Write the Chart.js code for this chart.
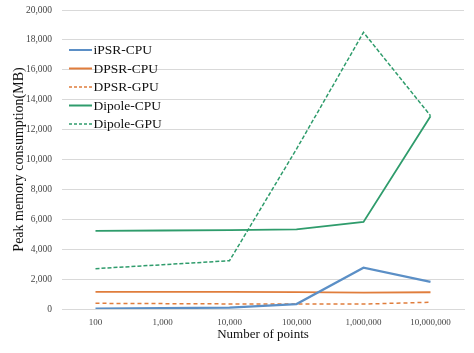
<!DOCTYPE html>
<html>
<head>
<meta charset="utf-8">
<script src="https://cdn.jsdelivr.net/npm/chart.js@4.4.1/dist/chart.umd.min.js"></script>
<style>
html,body{margin:0;padding:0;background:#fff;}
#wrap{width:474px;height:353px;position:relative;}
</style>
</head>
<body>
<div id="wrap"><canvas id="c" width="474" height="353"></canvas></div>
<script>
const categories = ["100", "1,000", "10,000", "100,000", "1,000,000", "10,000,000"];
const ipsrCpu   = [30, 60, 90, 330, 2760, 1810];
const dpsrCpu   = [1140, 1140, 1140, 1130, 1090, 1120];
const dpsrGpu   = [380, 360, 340, 330, 330, 450];
const dipoleCpu = [5230, 5250, 5280, 5330, 5820, 12900];
const dipoleGpu = [2700, 2960, 3230, 10700, 18500, 12930];
const yTicks = [0, 2000, 4000, 6000, 8000, 10000, 12000, 14000, 16000, 18000, 20000];

const SERIF = "'Liberation Serif','Times New Roman',serif";
const BLUE = "#5b8fc6", ORANGE = "#e07d3c", GREEN = "#2f9c6c";

const legendPlugin = {
  id: 'insideLegend',
  afterDatasetsDraw(chart) {
    const ctx = chart.ctx;
    const x0 = 69, x1 = 92, tx = 93.5, y0 = 50, dy = 18.5;
    ctx.save();
    chart.data.datasets.forEach((ds, i) => {
      const y = y0 + i * dy;
      ctx.beginPath();
      ctx.strokeStyle = ds.borderColor;
      ctx.lineWidth = ds.borderDash && ds.borderDash.length ? 1.3 : 2;
      ctx.setLineDash(ds.borderDash && ds.borderDash.length ? [3, 2] : []);
      ctx.moveTo(x0, y); ctx.lineTo(x1, y); ctx.stroke();
      ctx.setLineDash([]);
      ctx.fillStyle = "#111";
      ctx.font = "13.5px " + SERIF;
      ctx.textBaseline = "middle";
      ctx.textAlign = "left";
      ctx.fillText(ds.label, tx, y + 0.5);
    });
    ctx.restore();
  }
};

new Chart(document.getElementById('c'), {
  type: 'line',
  data: {
    labels: categories,
    datasets: [
      {label: 'iPSR-CPU', data: ipsrCpu, borderColor: BLUE, borderWidth: 2.2, borderDash: []},
      {label: 'DPSR-CPU', data: dpsrCpu, borderColor: ORANGE, borderWidth: 1.8, borderDash: []},
      {label: 'DPSR-GPU', data: dpsrGpu, borderColor: ORANGE, borderWidth: 1.5, borderDash: [4, 3]},
      {label: 'Dipole-CPU', data: dipoleCpu, borderColor: GREEN, borderWidth: 1.8, borderDash: []},
      {label: 'Dipole-GPU', data: dipoleGpu, borderColor: GREEN, borderWidth: 1.5, borderDash: [4, 2]}
    ]
  },
  options: {
    responsive: false,
    animation: false,
    devicePixelRatio: 1,
    layout: {padding: {left: 0, right: 10, top: 10, bottom: 0}},
    elements: {point: {radius: 0}, line: {tension: 0}},
    plugins: {legend: {display: false}, tooltip: {enabled: false}},
    scales: {
      x: {
        offset: true,
        grid: {display: false, drawTicks: false},
        border: {display: true, color: '#d9d9d9', width: 1},
        ticks: {color: '#444', font: {family: SERIF, size: 9}, padding: 8, maxRotation: 0, autoSkip: false},
        title: {display: true, text: 'Number of points', color: '#111', font: {family: SERIF, size: 13}, padding: {top: 4, bottom: 11}},
        afterFit(s) { s.height = 44; s.paddingLeft = 0; s.paddingRight = 0; }
      },
      y: {
        min: 0, max: 20000,
        afterBuildTicks(s) { s.ticks = yTicks.map(v => ({value: v})); },
        grid: {color: '#d9d9d9', drawTicks: false},
        border: {display: false},
        ticks: {color: '#444', font: {family: SERIF, size: 9.5}, padding: 10,
          callback: v => v.toLocaleString('en-US')},
        title: {display: true, text: 'Peak memory consumption(MB)', color: '#111', font: {family: SERIF, size: 14}, padding: {top: 11, bottom: 0}},
        afterFit(s) { s.width = 62; s.paddingTop = 0; s.paddingBottom = 0; }
      }
    }
  },
  plugins: [legendPlugin]
});
</script>
</body>
</html>
